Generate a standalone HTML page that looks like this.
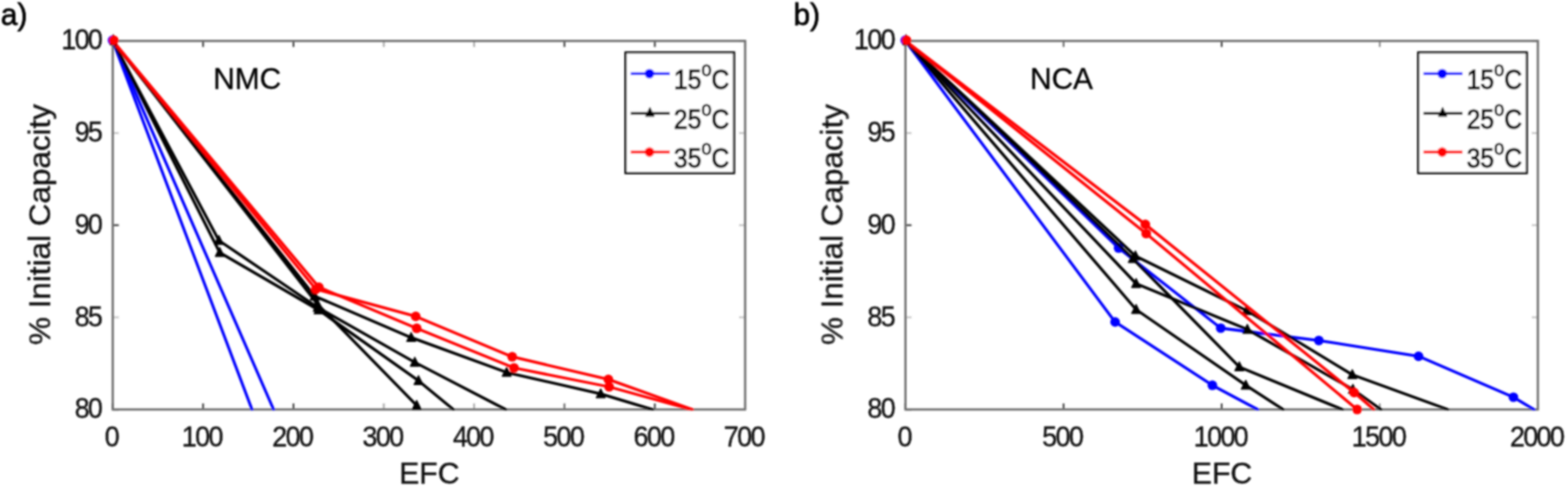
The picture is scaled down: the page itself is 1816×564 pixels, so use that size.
<!DOCTYPE html><html><head><meta charset="utf-8"><title>Capacity fade NMC / NCA</title>
<style>html,body{margin:0;padding:0;background:#fff;}body{width:1816px;height:564px;overflow:hidden;}svg{display:block;}text{font-family:"Liberation Sans",Arial,Helvetica,sans-serif;stroke-width:0.35px;}</style></head><body>
<svg width="1816" height="564" viewBox="0 0 1816 564">
<rect x="0" y="0" width="1816" height="564" fill="#fff"/>
<filter id="bl" filterUnits="userSpaceOnUse" x="0" y="0" width="1816" height="564"><feConvolveMatrix order="5" kernelMatrix="1 4 6 4 1 4 16 24 16 4 6 24 36 24 6 4 16 24 16 4 1 4 6 4 1" divisor="256" edgeMode="duplicate"/></filter>
<g filter="url(#bl)">
<defs><clipPath id="cl"><rect x="122.6" y="39.4" width="748.4" height="435.8"/></clipPath><clipPath id="cr"><rect x="1040.7" y="39.4" width="748.4" height="435.8"/></clipPath></defs>
<style>.tl{font-size:34px;fill:#0d0d0d;stroke:#0d0d0d;letter-spacing:-2.1px;}.lab{font-size:35px;fill:#0d0d0d;stroke:#0d0d0d;}.ann{font-size:34.5px;fill:#000;stroke:#000;}.lg{font-size:30.5px;fill:#000;stroke:#000;stroke-width:1.1px;}.sup{font-size:23px;fill:#000;stroke:#000;stroke-width:0.8px;}</style>
<g>
<line x1="130.6" y1="47.4" x2="137.6" y2="47.4" stroke="#4a4a4a" stroke-width="2.2" opacity="1.0"/><line x1="863" y1="47.4" x2="856" y2="47.4" stroke="#4a4a4a" stroke-width="2.2" opacity="0.3"/><line x1="130.6" y1="154.1" x2="137.6" y2="154.1" stroke="#4a4a4a" stroke-width="2.2" opacity="0.3"/><line x1="863" y1="154.1" x2="856" y2="154.1" stroke="#4a4a4a" stroke-width="2.2" opacity="0.3"/><line x1="130.6" y1="260.8" x2="137.6" y2="260.8" stroke="#4a4a4a" stroke-width="2.2" opacity="1.0"/><line x1="863" y1="260.8" x2="856" y2="260.8" stroke="#4a4a4a" stroke-width="2.2" opacity="0.3"/><line x1="130.6" y1="367.5" x2="137.6" y2="367.5" stroke="#4a4a4a" stroke-width="2.2" opacity="0.3"/><line x1="863" y1="367.5" x2="856" y2="367.5" stroke="#4a4a4a" stroke-width="2.2" opacity="0.3"/><line x1="130.6" y1="474.2" x2="137.6" y2="474.2" stroke="#4a4a4a" stroke-width="2.2" opacity="1.0"/><line x1="863" y1="474.2" x2="856" y2="474.2" stroke="#4a4a4a" stroke-width="2.2" opacity="0.3"/><line x1="130.6" y1="474.2" x2="130.6" y2="467.2" stroke="#4a4a4a" stroke-width="2.2" opacity="1"/><line x1="130.6" y1="47.4" x2="130.6" y2="54.4" stroke="#4a4a4a" stroke-width="2.2" opacity="1"/><line x1="235.2" y1="474.2" x2="235.2" y2="467.2" stroke="#4a4a4a" stroke-width="2.2" opacity="1"/><line x1="235.2" y1="47.4" x2="235.2" y2="54.4" stroke="#4a4a4a" stroke-width="2.2" opacity="1"/><line x1="339.9" y1="474.2" x2="339.9" y2="467.2" stroke="#4a4a4a" stroke-width="2.2" opacity="1"/><line x1="339.9" y1="47.4" x2="339.9" y2="54.4" stroke="#4a4a4a" stroke-width="2.2" opacity="1"/><line x1="444.5" y1="474.2" x2="444.5" y2="467.2" stroke="#4a4a4a" stroke-width="2.2" opacity="0.45"/><line x1="444.5" y1="47.4" x2="444.5" y2="54.4" stroke="#4a4a4a" stroke-width="2.2" opacity="0.45"/><line x1="549.1" y1="474.2" x2="549.1" y2="467.2" stroke="#4a4a4a" stroke-width="2.2" opacity="0.45"/><line x1="549.1" y1="47.4" x2="549.1" y2="54.4" stroke="#4a4a4a" stroke-width="2.2" opacity="0.45"/><line x1="653.7" y1="474.2" x2="653.7" y2="467.2" stroke="#4a4a4a" stroke-width="2.2" opacity="0.8"/><line x1="653.7" y1="47.4" x2="653.7" y2="54.4" stroke="#4a4a4a" stroke-width="2.2" opacity="1"/><line x1="758.4" y1="474.2" x2="758.4" y2="467.2" stroke="#4a4a4a" stroke-width="2.2" opacity="1"/><line x1="758.4" y1="47.4" x2="758.4" y2="54.4" stroke="#4a4a4a" stroke-width="2.2" opacity="1"/><line x1="863" y1="474.2" x2="863" y2="467.2" stroke="#4a4a4a" stroke-width="2.2" opacity="0.3"/><line x1="863" y1="47.4" x2="863" y2="54.4" stroke="#4a4a4a" stroke-width="2.2" opacity="0.3"/><rect x="130.6" y="47.4" width="732.4" height="426.8" fill="none" stroke="#707070" stroke-width="2.6"/>
<g clip-path="url(#cl)"><polyline points="130.6,47.4 291.9,474.3" fill="none" stroke="#0000ff" stroke-width="3.3" stroke-linejoin="round" stroke-linecap="round"/><polyline points="130.6,47.4 316.9,474.3" fill="none" stroke="#0000ff" stroke-width="3.3" stroke-linejoin="round" stroke-linecap="round"/></g>
<g clip-path="url(#cl)"><polyline points="130.6,47.4 253.5,278.5 368,356 480.4,419.6 585.7,474.3" fill="none" stroke="#000000" stroke-width="3.3" stroke-linejoin="round" stroke-linecap="round"/><polyline points="130.6,47.4 254.5,292.5 369,359 484.7,440.9 525.1,474.3" fill="none" stroke="#000000" stroke-width="3.3" stroke-linejoin="round" stroke-linecap="round"/><polyline points="130.6,47.4 364.5,343 476.2,390.9 586.8,431.3 695.7,456.2 756,474.3" fill="none" stroke="#000000" stroke-width="3.3" stroke-linejoin="round" stroke-linecap="round"/><polyline points="130.6,47.4 367.5,352 482.6,469.6" fill="none" stroke="#000000" stroke-width="3.3" stroke-linejoin="round" stroke-linecap="round"/></g><polygon points="253.5,272.3 248.1,283.1 258.9,283.1" fill="#000000" stroke="#000000" stroke-width="1" stroke-linejoin="round"/><polygon points="368,349.8 362.6,360.6 373.4,360.6" fill="#000000" stroke="#000000" stroke-width="1" stroke-linejoin="round"/><polygon points="480.4,413.4 475,424.2 485.8,424.2" fill="#000000" stroke="#000000" stroke-width="1" stroke-linejoin="round"/><polygon points="254.5,286.3 249.1,297.1 259.9,297.1" fill="#000000" stroke="#000000" stroke-width="1" stroke-linejoin="round"/><polygon points="369,352.8 363.6,363.6 374.4,363.6" fill="#000000" stroke="#000000" stroke-width="1" stroke-linejoin="round"/><polygon points="484.7,434.7 479.3,445.5 490.1,445.5" fill="#000000" stroke="#000000" stroke-width="1" stroke-linejoin="round"/><polygon points="364.5,336.8 359.1,347.6 369.9,347.6" fill="#000000" stroke="#000000" stroke-width="1" stroke-linejoin="round"/><polygon points="476.2,384.7 470.8,395.5 481.6,395.5" fill="#000000" stroke="#000000" stroke-width="1" stroke-linejoin="round"/><polygon points="586.8,425.1 581.4,435.9 592.2,435.9" fill="#000000" stroke="#000000" stroke-width="1" stroke-linejoin="round"/><polygon points="695.7,450 690.3,460.8 701.1,460.8" fill="#000000" stroke="#000000" stroke-width="1" stroke-linejoin="round"/><polygon points="367.5,345.8 362.1,356.6 372.9,356.6" fill="#000000" stroke="#000000" stroke-width="1" stroke-linejoin="round"/><polygon points="482.6,463.4 477.2,474.2 488,474.2" fill="#000000" stroke="#000000" stroke-width="1" stroke-linejoin="round"/>
<g clip-path="url(#cl)"><polyline points="130.6,47.4 365.8,335 481.5,366.4 593.2,413.2 704.6,439.4 802,474.3" fill="none" stroke="#ff0000" stroke-width="3.3" stroke-linejoin="round" stroke-linecap="round"/><polyline points="130.6,47.4 369.3,332.6 482.6,380.2 595.3,426 705.5,448 801,474.3" fill="none" stroke="#ff0000" stroke-width="3.3" stroke-linejoin="round" stroke-linecap="round"/></g><circle cx="365.8" cy="335" r="5.6" fill="#ff0000"/><circle cx="481.5" cy="366.4" r="5.6" fill="#ff0000"/><circle cx="593.2" cy="413.2" r="5.6" fill="#ff0000"/><circle cx="704.6" cy="439.4" r="5.6" fill="#ff0000"/><circle cx="369.3" cy="332.6" r="5.6" fill="#ff0000"/><circle cx="482.6" cy="380.2" r="5.6" fill="#ff0000"/><circle cx="595.3" cy="426" r="5.6" fill="#ff0000"/><circle cx="705.5" cy="448" r="5.6" fill="#ff0000"/>
<circle cx="130.3" cy="46.6" r="5.6" fill="#0000ff"/>
<polygon points="131.2,39.8 127.2,52 135.2,52" fill="#000000" stroke="#000000" stroke-width="1" stroke-linejoin="round"/>
<circle cx="131.8" cy="46.6" r="5.6" fill="#ff0000"/>
<text transform="translate(117.3,57.4) scale(0.92,1)" text-anchor="end" class="tl">100</text><text transform="translate(117.3,164.1) scale(0.92,1)" text-anchor="end" class="tl">95</text><text transform="translate(117.3,270.8) scale(0.92,1)" text-anchor="end" class="tl">90</text><text transform="translate(117.3,377.5) scale(0.92,1)" text-anchor="end" class="tl">85</text><text transform="translate(117.3,484.2) scale(0.92,1)" text-anchor="end" class="tl">80</text><text transform="translate(129.1,516.8) scale(0.92,1)" text-anchor="middle" class="tl">0</text><text transform="translate(233.7,516.8) scale(0.92,1)" text-anchor="middle" class="tl">100</text><text transform="translate(338.4,516.8) scale(0.92,1)" text-anchor="middle" class="tl">200</text><text transform="translate(443,516.8) scale(0.92,1)" text-anchor="middle" class="tl">300</text><text transform="translate(547.6,516.8) scale(0.92,1)" text-anchor="middle" class="tl">400</text><text transform="translate(652.2,516.8) scale(0.92,1)" text-anchor="middle" class="tl">500</text><text transform="translate(756.9,516.8) scale(0.92,1)" text-anchor="middle" class="tl">600</text><text transform="translate(861.5,516.8) scale(0.92,1)" text-anchor="middle" class="tl">700</text>
<text x="497.2" y="560.4" text-anchor="middle" class="lab">EFC</text>
<text transform="translate(57.6,260) rotate(-90)" text-anchor="middle" class="lab" textLength="279" lengthAdjust="spacingAndGlyphs">% Initial Capacity</text>
<text x="247" y="103.1" class="ann">NMC</text>
<text x="1" y="29.1" class="ann" style="stroke-width:0.8px">a)</text>
<rect x="724.5" y="60.8" width="125.6" height="139.6" fill="#fff" stroke="#000" stroke-width="2.6"/>
<line x1="730.6" y1="85.3" x2="775.6" y2="85.3" stroke="#0000ff" stroke-width="3.3"/>
<circle cx="752.2" cy="85.3" r="5.6" fill="#0000ff"/>
<text x="780.6" y="103.3" class="lg" textLength="64" lengthAdjust="spacingAndGlyphs">15<tspan class="sup" dy="-15.2">o</tspan><tspan dy="15.2">C</tspan></text>
<line x1="730.6" y1="131.3" x2="775.6" y2="131.3" stroke="#000000" stroke-width="3.3"/>
<polygon points="752.7,124.3 747.7,134.8 757.7,134.8" fill="#000000" stroke="#000000" stroke-width="1" stroke-linejoin="round"/>
<text x="780.6" y="149.3" class="lg" textLength="64" lengthAdjust="spacingAndGlyphs">25<tspan class="sup" dy="-15.2">o</tspan><tspan dy="15.2">C</tspan></text>
<line x1="730.6" y1="176.1" x2="775.6" y2="176.1" stroke="#ff0000" stroke-width="3.3"/>
<circle cx="752.2" cy="176.1" r="5.6" fill="#ff0000"/>
<text x="780.6" y="194.1" class="lg" textLength="64" lengthAdjust="spacingAndGlyphs">35<tspan class="sup" dy="-15.2">o</tspan><tspan dy="15.2">C</tspan></text>
</g>
<g>
<line x1="1048.7" y1="47.4" x2="1055.7" y2="47.4" stroke="#4a4a4a" stroke-width="2.2" opacity="1.0"/><line x1="1781.1" y1="47.4" x2="1774.1" y2="47.4" stroke="#4a4a4a" stroke-width="2.2" opacity="0.3"/><line x1="1048.7" y1="154.1" x2="1055.7" y2="154.1" stroke="#4a4a4a" stroke-width="2.2" opacity="0.3"/><line x1="1781.1" y1="154.1" x2="1774.1" y2="154.1" stroke="#4a4a4a" stroke-width="2.2" opacity="0.3"/><line x1="1048.7" y1="260.8" x2="1055.7" y2="260.8" stroke="#4a4a4a" stroke-width="2.2" opacity="1.0"/><line x1="1781.1" y1="260.8" x2="1774.1" y2="260.8" stroke="#4a4a4a" stroke-width="2.2" opacity="0.3"/><line x1="1048.7" y1="367.5" x2="1055.7" y2="367.5" stroke="#4a4a4a" stroke-width="2.2" opacity="0.3"/><line x1="1781.1" y1="367.5" x2="1774.1" y2="367.5" stroke="#4a4a4a" stroke-width="2.2" opacity="0.3"/><line x1="1048.7" y1="474.2" x2="1055.7" y2="474.2" stroke="#4a4a4a" stroke-width="2.2" opacity="1.0"/><line x1="1781.1" y1="474.2" x2="1774.1" y2="474.2" stroke="#4a4a4a" stroke-width="2.2" opacity="0.3"/><line x1="1048.7" y1="474.2" x2="1048.7" y2="467.2" stroke="#4a4a4a" stroke-width="2.2" opacity="1"/><line x1="1048.7" y1="47.4" x2="1048.7" y2="54.4" stroke="#4a4a4a" stroke-width="2.2" opacity="1"/><line x1="1231.8" y1="474.2" x2="1231.8" y2="467.2" stroke="#4a4a4a" stroke-width="2.2" opacity="1"/><line x1="1231.8" y1="47.4" x2="1231.8" y2="54.4" stroke="#4a4a4a" stroke-width="2.2" opacity="0.8"/><line x1="1414.9" y1="474.2" x2="1414.9" y2="467.2" stroke="#4a4a4a" stroke-width="2.2" opacity="1"/><line x1="1414.9" y1="47.4" x2="1414.9" y2="54.4" stroke="#4a4a4a" stroke-width="2.2" opacity="1"/><line x1="1598" y1="474.2" x2="1598" y2="467.2" stroke="#4a4a4a" stroke-width="2.2" opacity="0.6"/><line x1="1598" y1="47.4" x2="1598" y2="54.4" stroke="#4a4a4a" stroke-width="2.2" opacity="0.6"/><line x1="1781.1" y1="474.2" x2="1781.1" y2="467.2" stroke="#4a4a4a" stroke-width="2.2" opacity="0.3"/><line x1="1781.1" y1="47.4" x2="1781.1" y2="54.4" stroke="#4a4a4a" stroke-width="2.2" opacity="0.3"/><rect x="1048.7" y="47.4" width="732.4" height="426.8" fill="none" stroke="#707070" stroke-width="2.6"/>
<g clip-path="url(#cr)"><polyline points="1048.7,47.4 1291.5,372.9 1404.1,446.2 1456.6,474.3" fill="none" stroke="#0000ff" stroke-width="3.3" stroke-linejoin="round" stroke-linecap="round"/><polyline points="1048.7,47.4 1295.5,287.2 1413.8,380 1527.4,394.3 1642.9,412.6 1752.8,460 1776.8,474.3" fill="none" stroke="#0000ff" stroke-width="3.3" stroke-linejoin="round" stroke-linecap="round"/></g><circle cx="1291.5" cy="372.9" r="5.6" fill="#0000ff"/><circle cx="1404.1" cy="446.2" r="5.6" fill="#0000ff"/><circle cx="1295.5" cy="287.2" r="5.6" fill="#0000ff"/><circle cx="1413.8" cy="380" r="5.6" fill="#0000ff"/><circle cx="1527.4" cy="394.3" r="5.6" fill="#0000ff"/><circle cx="1642.9" cy="412.6" r="5.6" fill="#0000ff"/><circle cx="1752.8" cy="460" r="5.6" fill="#0000ff"/>
<g clip-path="url(#cr)"><polyline points="1048.7,47.4 1315,296.5 1443.8,359.7 1566.2,434 1676.8,474.3" fill="none" stroke="#000000" stroke-width="3.3" stroke-linejoin="round" stroke-linecap="round"/><polyline points="1048.7,47.4 1312,299.5 1435.3,424.9 1554.8,474.3" fill="none" stroke="#000000" stroke-width="3.3" stroke-linejoin="round" stroke-linecap="round"/><polyline points="1048.7,47.4 1315.8,328.5 1444.6,381.5 1566.9,451 1599.5,474.3" fill="none" stroke="#000000" stroke-width="3.3" stroke-linejoin="round" stroke-linecap="round"/><polyline points="1048.7,47.4 1315.8,358.5 1442.8,446.2 1486.3,474.3" fill="none" stroke="#000000" stroke-width="3.3" stroke-linejoin="round" stroke-linecap="round"/></g><polygon points="1315,290.3 1309.6,301.1 1320.4,301.1" fill="#000000" stroke="#000000" stroke-width="1" stroke-linejoin="round"/><polygon points="1443.8,353.5 1438.4,364.3 1449.2,364.3" fill="#000000" stroke="#000000" stroke-width="1" stroke-linejoin="round"/><polygon points="1566.2,427.8 1560.8,438.6 1571.6,438.6" fill="#000000" stroke="#000000" stroke-width="1" stroke-linejoin="round"/><polygon points="1312,293.3 1306.6,304.1 1317.4,304.1" fill="#000000" stroke="#000000" stroke-width="1" stroke-linejoin="round"/><polygon points="1435.3,418.7 1429.9,429.5 1440.7,429.5" fill="#000000" stroke="#000000" stroke-width="1" stroke-linejoin="round"/><polygon points="1315.8,322.3 1310.4,333.1 1321.2,333.1" fill="#000000" stroke="#000000" stroke-width="1" stroke-linejoin="round"/><polygon points="1444.6,375.3 1439.2,386.1 1450,386.1" fill="#000000" stroke="#000000" stroke-width="1" stroke-linejoin="round"/><polygon points="1566.9,444.8 1561.5,455.6 1572.3,455.6" fill="#000000" stroke="#000000" stroke-width="1" stroke-linejoin="round"/><polygon points="1315.8,352.3 1310.4,363.1 1321.2,363.1" fill="#000000" stroke="#000000" stroke-width="1" stroke-linejoin="round"/><polygon points="1442.8,440 1437.4,450.8 1448.2,450.8" fill="#000000" stroke="#000000" stroke-width="1" stroke-linejoin="round"/>
<g clip-path="url(#cr)"><polyline points="1048.7,47.4 1326.5,259.9 1568.3,454.6 1591,474.3" fill="none" stroke="#ff0000" stroke-width="3.3" stroke-linejoin="round" stroke-linecap="round"/><polyline points="1048.7,47.4 1327.5,270.5 1571.8,474.2" fill="none" stroke="#ff0000" stroke-width="3.3" stroke-linejoin="round" stroke-linecap="round"/></g><circle cx="1326.5" cy="259.9" r="5.6" fill="#ff0000"/><circle cx="1568.3" cy="454.6" r="5.6" fill="#ff0000"/><circle cx="1327.5" cy="270.5" r="5.6" fill="#ff0000"/><circle cx="1571.8" cy="474.2" r="5.6" fill="#ff0000"/>
<circle cx="1048.4" cy="46.6" r="5.6" fill="#0000ff"/>
<polygon points="1049.3,39.8 1045.3,52 1053.3,52" fill="#000000" stroke="#000000" stroke-width="1" stroke-linejoin="round"/>
<circle cx="1049.9" cy="46.6" r="5.6" fill="#ff0000"/>
<text transform="translate(1035.4,57.4) scale(0.92,1)" text-anchor="end" class="tl">100</text><text transform="translate(1035.4,164.1) scale(0.92,1)" text-anchor="end" class="tl">95</text><text transform="translate(1035.4,270.8) scale(0.92,1)" text-anchor="end" class="tl">90</text><text transform="translate(1035.4,377.5) scale(0.92,1)" text-anchor="end" class="tl">85</text><text transform="translate(1035.4,484.2) scale(0.92,1)" text-anchor="end" class="tl">80</text><text transform="translate(1047.2,516.8) scale(0.92,1)" text-anchor="middle" class="tl">0</text><text transform="translate(1230.3,516.8) scale(0.92,1)" text-anchor="middle" class="tl">500</text><text transform="translate(1413.4,516.8) scale(0.92,1)" text-anchor="middle" class="tl">1000</text><text transform="translate(1596.5,516.8) scale(0.92,1)" text-anchor="middle" class="tl">1500</text><text transform="translate(1779.6,516.8) scale(0.92,1)" text-anchor="middle" class="tl">2000</text>
<text x="1415.3" y="560.4" text-anchor="middle" class="lab">EFC</text>
<text transform="translate(975.7,260) rotate(-90)" text-anchor="middle" class="lab" textLength="279" lengthAdjust="spacingAndGlyphs">% Initial Capacity</text>
<text x="1193" y="103.1" class="ann">NCA</text>
<text x="919.1" y="29.1" class="ann" style="stroke-width:0.8px">b)</text>
<rect x="1642.6" y="60.8" width="125.6" height="139.6" fill="#fff" stroke="#000" stroke-width="2.6"/>
<line x1="1648.7" y1="85.3" x2="1693.7" y2="85.3" stroke="#0000ff" stroke-width="3.3"/>
<circle cx="1670.3" cy="85.3" r="5.6" fill="#0000ff"/>
<text x="1698.7" y="103.3" class="lg" textLength="64" lengthAdjust="spacingAndGlyphs">15<tspan class="sup" dy="-15.2">o</tspan><tspan dy="15.2">C</tspan></text>
<line x1="1648.7" y1="131.3" x2="1693.7" y2="131.3" stroke="#000000" stroke-width="3.3"/>
<polygon points="1670.8,124.3 1665.8,134.8 1675.8,134.8" fill="#000000" stroke="#000000" stroke-width="1" stroke-linejoin="round"/>
<text x="1698.7" y="149.3" class="lg" textLength="64" lengthAdjust="spacingAndGlyphs">25<tspan class="sup" dy="-15.2">o</tspan><tspan dy="15.2">C</tspan></text>
<line x1="1648.7" y1="176.1" x2="1693.7" y2="176.1" stroke="#ff0000" stroke-width="3.3"/>
<circle cx="1670.3" cy="176.1" r="5.6" fill="#ff0000"/>
<text x="1698.7" y="194.1" class="lg" textLength="64" lengthAdjust="spacingAndGlyphs">35<tspan class="sup" dy="-15.2">o</tspan><tspan dy="15.2">C</tspan></text>
</g>
</g></svg></body></html>
